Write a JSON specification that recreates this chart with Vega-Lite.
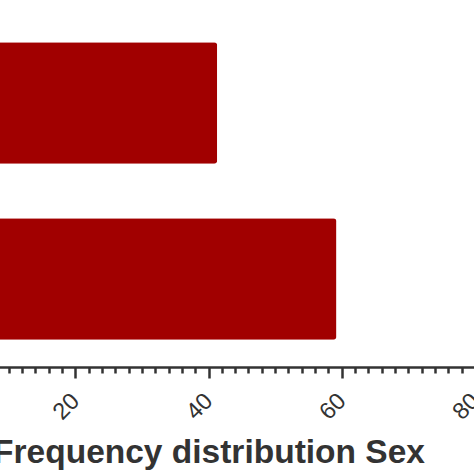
{
  "$schema": "https://vega.github.io/schema/vega-lite/v6.json",
  "width": 533,
  "height": 352,
  "autosize": {"type": "none"},
  "padding": {"left": -58, "top": 15, "right": -1, "bottom": 107},
  "background": "white",
  "data": {"values": [
    {"sex": "Male", "frequency": 41.3},
    {"sex": "Female", "frequency": 59.2}
  ]},
  "encoding": {
    "y": {"field": "sex", "type": "nominal", "sort": null, "axis": null,
          "scale": {"paddingInner": 0.31, "paddingOuter": 0.155}},
    "x": {"field": "frequency", "type": "quantitative",
          "scale": {"domain": [0, 80], "nice": false}}
  },
  "layer": [
    {
      "mark": {"type": "bar", "color": "#a10000", "cornerRadius": 3},
      "encoding": {
        "x": {"field": "frequency", "type": "quantitative",
              "scale": {"domain": [0, 80], "nice": false},
              "title": "Frequency distribution Sex",
              "axis": {
                "orient": "bottom",
                "values": [20, 40, 60, 80],
                "grid": false,
                "domainColor": "#333333", "domainWidth": 2.5,
                "tickColor": "#333333", "tickWidth": 2.5, "tickSize": 11,
                "labelAngle": -45, "labelAlign": "right", "labelBaseline": "middle",
                "labelFont": "Liberation Sans", "labelFontSize": 23.5, "labelColor": "#333333",
                "labelPadding": 19,
                "titleFont": "Liberation Sans", "titleFontSize": 33.5, "titleFontWeight": "bold",
                "titleColor": "#333333", "titlePadding": 13
              }}
      }
    },
    {
      "mark": {"type": "bar", "opacity": 0},
      "encoding": {
        "x": {"field": "frequency", "type": "quantitative",
              "scale": {"domain": [0, 80], "nice": false},
              "title": null,
              "axis": {
                "orient": "bottom",
                "values": [2, 4, 6, 8, 10, 12, 14, 16, 18, 22, 24, 26, 28, 30, 32, 34, 36, 38, 42, 44, 46, 48, 50, 52, 54, 56, 58, 62, 64, 66, 68, 70, 72, 74, 76, 78],
                "grid": false, "domain": false, "labels": false,
                "tickColor": "#333333", "tickWidth": 2.5, "tickSize": 6
              }}
      }
    }
  ],
  "resolve": {"axis": {"x": "independent"}},
  "config": {"view": {"stroke": null}}
}
